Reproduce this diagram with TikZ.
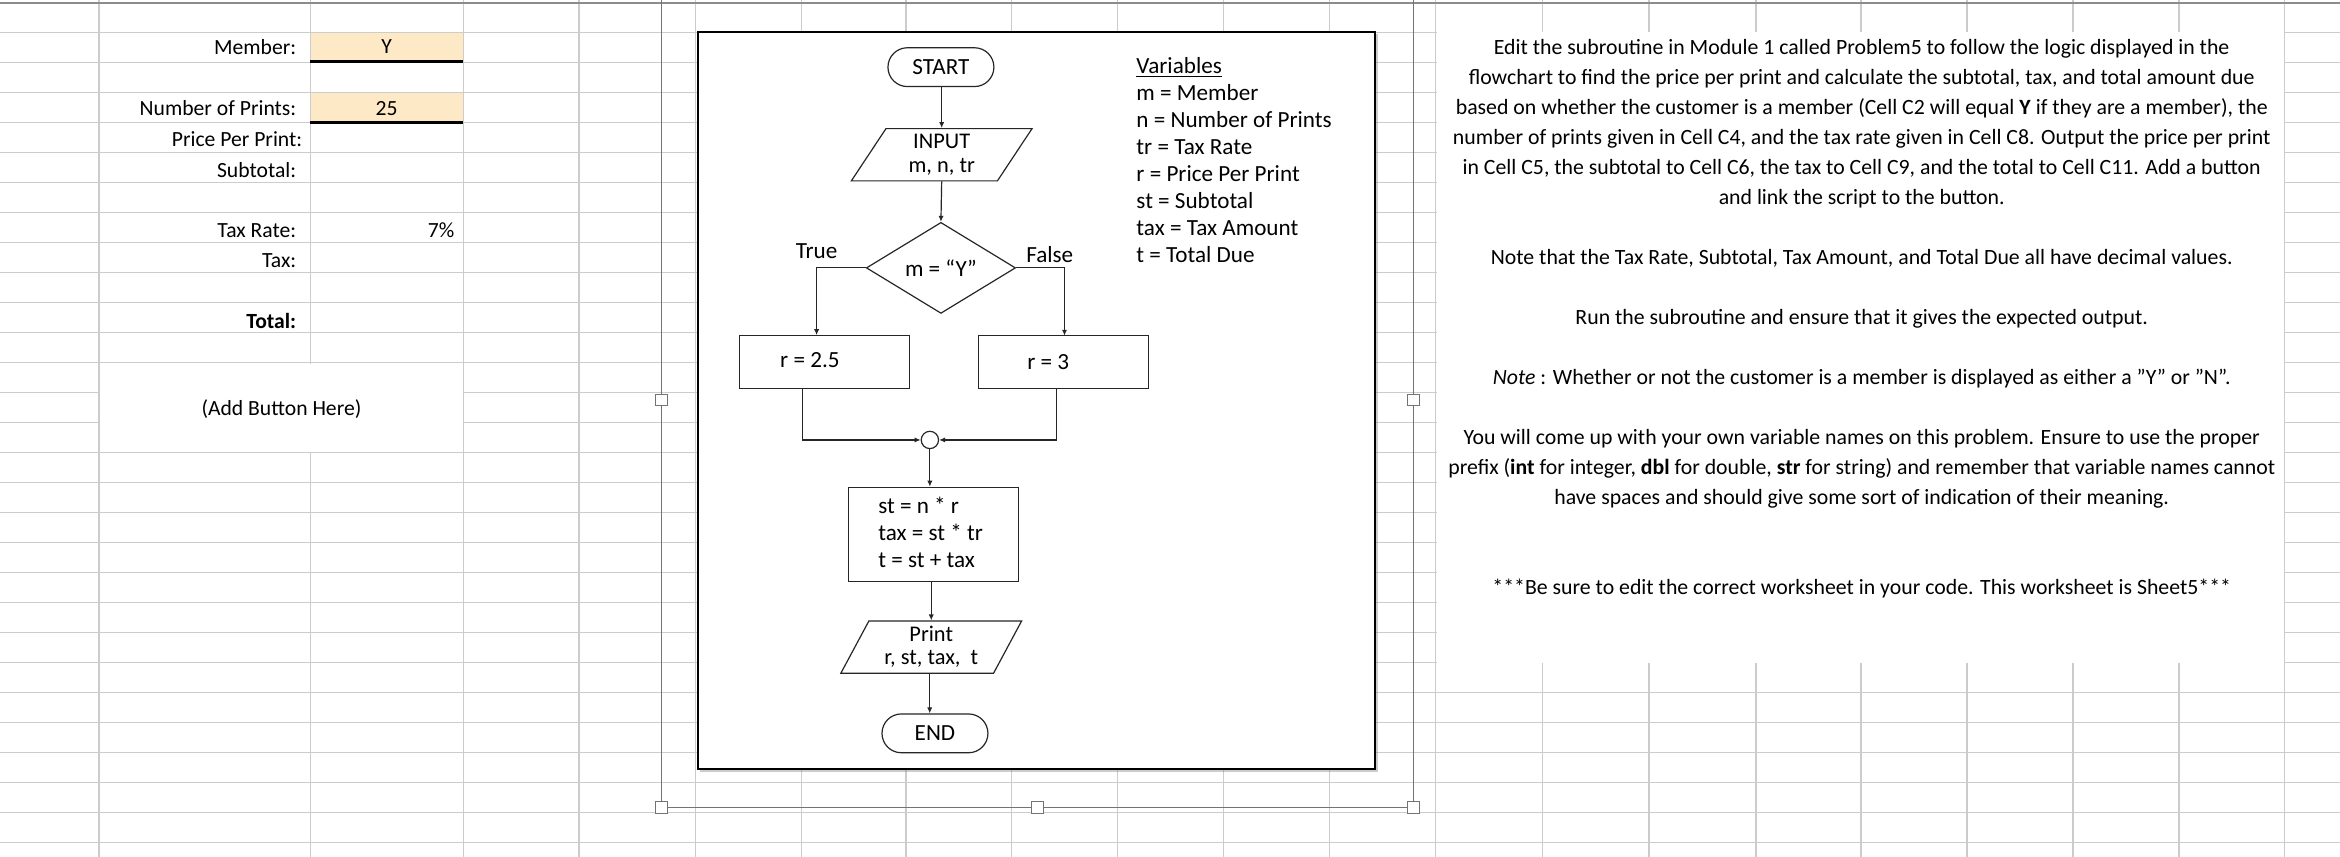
\documentclass[tikz,border=0pt]{standalone}
\usepackage{fontspec}
\setmainfont{Carlito}
\usetikzlibrary{shapes.geometric,shapes.misc,arrows.meta,shadows}
\begin{document}
\begin{tikzpicture}[x=1pt,y=-1pt,
  grid/.style={draw=black!20,line width=0.9pt},
  fc/.style={draw=black!85,line width=0.8pt,fill=white,font=\fontsize{15.5}{14}\selectfont,align=center},
  term/.style={fc,rounded rectangle,minimum width=73pt,minimum height=26pt,inner sep=1pt},
  io/.style={fc,trapezium,trapezium stretches=true,trapezium left angle=63,trapezium right angle=117,minimum width=122pt,minimum height=35pt,inner sep=0pt,font=\fontsize{15}{15.5}\selectfont},
  proc/.style={fc,rectangle},
  arr/.style={draw=black!85,line width=0.8pt,-{Latex[length=4pt,width=3.5pt]}},
  lab/.style={font=\fontsize{15.5}{14}\selectfont},
  sheet/.style={font=\fontsize{14.5}{14}\selectfont},
  txt/.style={font=\fontsize{14.6}{20.1}\selectfont,align=center},
  handle/.style={draw=black!55,fill=white,line width=0.6pt,minimum size=8pt,inner sep=0pt}]
\useasboundingbox (0,0) rectangle (1568,574);
\fill[white] (0,0) rectangle (1568,574);
% grid
\foreach \y in {21.9,42,62.1,82.2,102.3,122.4,142.5,162.6,182.7,202.8,222.9,243,263.1,283.2,303.3,323.4,343.5,363.6,383.7,403.8,423.9,444,464.1,484.2,504.3,524.4,544.5,564.6}
  \draw[grid] (0,\y) -- (1568,\y);
\foreach \x in {66.4,208,310.5,388,466,537,607,678,749,820,891,962,1033.6,1105,1176.6,1247,1318,1389,1460,1531}
  \draw[grid] (\x,0) -- (\x,574);
\draw[black!45,line width=1pt] (0,2) -- (1568,2);
% merged button cell
\fill[white] (67,243.6) rectangle (310,302.8);
% yellow cells
\fill[yellow!20!orange!20] (208.5,22.3) rectangle (310,41);
\fill[yellow!20!orange!20] (208.5,62.5) rectangle (310,81.5);
\draw[black,line width=2pt] (208,41.5) -- (310.5,41.5);
\draw[black,line width=2pt] (208,82) -- (310.5,82);
% sheet labels
\node[sheet,anchor=east] (l1) at (202,31.5) {Member:};
\node[sheet] (v1) at (259,31.5) {Y};
\node[sheet,anchor=east] (l2) at (202,72.5) {Number of Prints:};
\node[sheet] (v2) at (259,72.5) {25};
\node[sheet,anchor=east] (l3) at (206,93) {Price Per Print:};
\node[sheet,anchor=east] (l4) at (202,114) {Subtotal:};
\node[sheet,anchor=east] (l5) at (202,154.5) {Tax Rate:};
\node[sheet,anchor=east] (v5) at (308,154.5) {7\%};
\node[sheet,anchor=east] (l6) at (202,174.5) {Tax:};
\node[sheet,anchor=east,font=\fontsize{14.5}{14}\selectfont\bfseries] (l7) at (202,215) {Total:};
\node[sheet] (btn) at (188.6,274) {(Add Button Here)};
% right text box
\fill[white] (963,21.7) rectangle (1530.5,444);
\node[txt,anchor=north] (desc) at (1247.5,23) {Edit the subroutine in Module 1 called Problem5 to follow the logic displayed in the\\
flowchart to find the price per print and calculate the subtotal, tax, and total amount due\\
based on whether the customer is a member (Cell C2 will equal \textbf{Y} if they are a member), the\\
number of prints given in Cell C4, and the tax rate given in Cell C8. Output the price per print\\
in Cell C5, the subtotal to Cell C6, the tax to Cell C9, and the total to Cell C11. Add a button\\
and link the script to the button.\\[20.1pt]
Note that the Tax Rate, Subtotal, Tax Amount, and Total Due all have decimal values.\\[20.1pt]
Run the subroutine and ensure that it gives the expected output.\\[20.1pt]
\textit{Note} : Whether or not the customer is a member is displayed as either a \symbol{34}Y\symbol{34} or \symbol{34}N\symbol{34}.\\[20.1pt]
You will come up with your own variable names on this problem. Ensure to use the proper\\
prefix (\textbf{int} for integer, \textbf{dbl} for double, \textbf{str} for string) and remember that variable names cannot\\
have spaces and should give some sort of indication of their meaning.\\[40.2pt]
***Be sure to edit the correct worksheet in your code. This worksheet is Sheet5***};
% selection frame
\draw[black!55,line width=0.8pt] (443,0) -- (443,541) -- (947,541) -- (947,0);
% flowchart frame
\node[draw=black,line width=1.4pt,fill=white,drop shadow={shadow xshift=1.5pt,shadow yshift=-1.5pt,opacity=0.4},minimum width=454pt,minimum height=494pt,inner sep=0pt] (frame) at (694.6,268.5) {};
\node[handle] (h1) at (443,268) {};
\node[handle] (h2) at (947,268) {};
\node[handle] (h3) at (443,541) {};
\node[handle] (h4) at (695,541) {};
\node[handle] (h5) at (947,541) {};
% flowchart
\node[term] (start) at (630.5,45) {START};
\node[io] (input) at (631,103.7) {INPUT\\m, n, tr};
\node[fc,diamond,aspect=1.62,minimum width=100pt,minimum height=61pt,inner sep=0pt] (dec) at (630.5,179.5) {m = “Y”};
\node[proc,minimum width=114pt,minimum height=35.4pt] (b1) at (552.5,242.7) {};
\node[lab] (b1t) at (542.7,241) {r = 2.5};
\node[proc,minimum width=114pt,minimum height=35.4pt] (b2) at (712.7,242.7) {};
\node[lab] (b2t) at (702.4,242.5) {r = 3};
\node[fc,circle,minimum size=11.6pt,inner sep=0pt] (join) at (623.1,294.8) {};
\node[proc,minimum width=114pt,minimum height=63pt] (calc) at (625.3,358) {};
\node[lab,anchor=west,align=left,font=\fontsize{15.5}{18}\selectfont] (calct) at (585,356.6) {st = n * r\\tax = st * tr\\t = st + tax};
\node[io] (print) at (624,433.6) {Print\\r, st, tax,\ \ t};
\node[term] (end) at (626.5,491.4) {END};
\node[lab] (true) at (547.2,168.6) {True};
\node[lab] (false) at (703.4,170.4) {False};
\node[lab,anchor=north west,align=left,font=\fontsize{15.5}{18.1}\selectfont] (vars) at (758,35) {\underline{Variables}\\m = Member\\n = Number of Prints\\tr = Tax Rate\\r = Price Per Print\\st = Subtotal\\tax = Tax Amount\\t = Total Due};
\draw[arr] (start.south -| input.north) -- (input.north);
\draw[arr] (input.south) -- (dec.north);
\draw[arr] (dec.west) -| (b1.north -| true);
\draw[arr] (dec.east) -| (713.3,225);
\draw[arr] (537.6,260.4) |- (join.west);
\draw[arr] (707.9,260.4) |- (join.east);
\draw[arr] (join.south) -- (join.south |- calc.north);
\draw[arr] (calc.south -| print.north) -- (print.north);
\draw[arr] (print.south -| 623,0) -- (623,478);
\end{tikzpicture}
\end{document}
